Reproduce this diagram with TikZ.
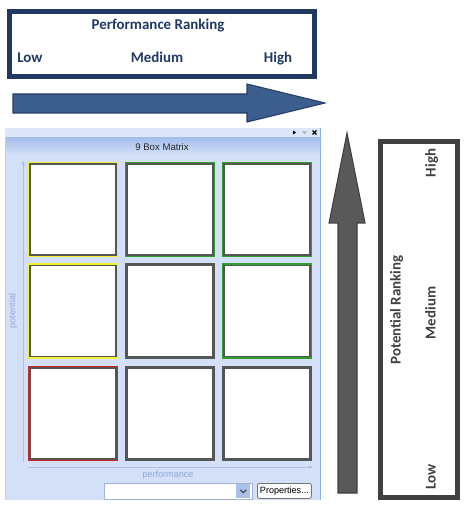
\documentclass[tikz,border=0pt]{standalone}
\usepackage{fontspec}
\setmainfont{Carlito}
\newfontfamily\uifont{Liberation Sans}
\usetikzlibrary{shapes.geometric}
\definecolor{navy}{HTML}{1F3864}
\definecolor{arrowblue}{HTML}{3B5E8F}
\definecolor{arrowblueline}{HTML}{253F66}
\definecolor{darkgray}{HTML}{404040}
\definecolor{arrowgray}{HTML}{595959}
\definecolor{panelbg}{HTML}{D4E0F7}
\definecolor{stripbg}{HTML}{DDE7F9}
\definecolor{headA}{HTML}{A6BEEC}
\definecolor{headB}{HTML}{D6E2F9}
\definecolor{axisblue}{HTML}{A9C0EC}
\definecolor{labelblue}{HTML}{8EA9DB}
\definecolor{cellgray}{HTML}{555555}
\definecolor{cellyellow}{HTML}{F2F230}
\definecolor{cellgreen}{HTML}{2E9E2E}
\definecolor{cellred}{HTML}{D42020}
\definecolor{edgeblue}{HTML}{8FAFE6}
\tikzset{
  rank/.style={font=\bfseries\fontsize{11.2}{13}\selectfont, inner sep=0pt, text height=1.6ex, text depth=0.45ex},
  uitext/.style={font=\uifont\fontsize{6.8}{8}\selectfont, inner sep=0pt},
}
\begin{document}
\begin{tikzpicture}[x=0.75pt,y=-0.75pt]
\useasboundingbox (0,0) rectangle (464,509);
% Performance box
\node[draw=navy, line width=3.75pt, minimum width=305*0.75pt, minimum height=65*0.75pt, inner sep=0pt, anchor=north west] (perfbox) at (6.5,9.5) {};
\node[rank, text=navy] (perftitle) at (158,26) {Performance Ranking};
\node[rank, text=navy] (plow) at (30,59) {Low};
\node[rank, text=navy] (pmed) at (157,59) {Medium};
\node[rank, text=navy] (phigh) at (278,59) {High};
% blue arrow
\draw[fill=arrowblue, draw=arrowblueline, line width=0.8pt, line join=miter]
  (13,94) -- (247,94) -- (247,84) -- (325,103) -- (247,122) -- (247,113) -- (13,113) -- cycle;
% panel
\fill[panelbg] (5,128) rectangle (321,500);
\fill[stripbg] (5,128) rectangle (321,137);
\shade[top color=headA, bottom color=headB] (5,138) rectangle (321,156);
\draw[edgeblue, line width=0.75pt] (320.5,128) -- (320.5,500);
\draw[edgeblue!60, line width=0.5pt] (5.3,137) -- (5.3,500);
\node[uitext, font=\uifont\fontsize{7.2}{8}\selectfont, text=black!85] (paneltitle) at (162,147) {9 Box Matrix};
% top-right icons
\fill[black] (293,130.5) -- (296,132.5) -- (293,134.5) -- cycle;
\fill[black!30] (302,131.5) -- (307,131.5) -- (304.5,134) -- cycle;
\draw[black, line width=0.9pt] (312.5,130.5) -- (316.5,134.5) (316.5,130.5) -- (312.5,134.5);
% axes
\coordinate (vtop) at (23,162);
\coordinate (vbot) at (23,462);
\draw[axisblue, line width=0.75pt] (vbot) -- (vtop);
\fill[axisblue] (21.5,165) -- (23,161) -- (24.5,165) -- cycle;
\coordinate (hleft) at (28,467);
\coordinate (hright) at (312,467);
\draw[axisblue, line width=0.75pt] (hleft) -- (hright);
\fill[axisblue] (309,465.5) -- (312.5,467) -- (309,468.5) -- cycle;
\node[uitext, text=labelblue] (perflabel) at (168,475) {performance};
\node[uitext, text=labelblue, rotate=90] (potlabel) at (13,311) {potential};
% cells: columns 28-118, 125-215, 222-312; rows 162-257, 263-358, 366-461
\foreach \x/\y/\c in {28/162/cellyellow, 125/162/cellgreen, 222/162/cellgreen,
                     28/263.5/cellyellow, 125/263.5/cellgray, 222/263.5/cellgreen,
                     28/366/cellred, 125/366/cellgray, 222/366/cellgray}{
  \fill[white] (\x,\y) rectangle ++(90,95);
  \draw[\c, line width=1.1pt] (\x+0.7,\y+0.7) rectangle ++(88.6,93.6);
  \draw[cellgray, line width=1.2pt] (\x+2.1,\y+2.1) rectangle ++(85.8,90.8);
}
% dropdown
\node[draw=axisblue!80!gray, fill=white, line width=0.6pt, minimum width=148*0.75pt, minimum height=16*0.75pt, inner sep=0pt, anchor=north west] (dropdown) at (104,483) {};
\node[fill=axisblue, minimum width=14*0.75pt, minimum height=14*0.75pt, inner sep=0pt, anchor=north west] (dropbtn) at (236,484) {};
\draw[black!70, line width=1pt] ([xshift=-2.2pt,yshift=1pt]dropbtn.center) -- ([yshift=-1pt]dropbtn.center) -- ([xshift=2.2pt,yshift=1pt]dropbtn.center);
\node[draw=black!55, fill=white!95!panelbg, rounded corners=1.5pt, line width=0.6pt, minimum width=54*0.75pt, minimum height=15*0.75pt, inner sep=0pt, anchor=north west, uitext] (propbtn) at (257,483) {Properties...};
% gray arrow
\draw[fill=arrowgray, draw=black!75, line width=0.8pt, line join=miter]
  (338,493) -- (338,223) -- (329,223) -- (347,133) -- (365,223) -- (357,223) -- (357,493) -- cycle;
% Potential box
\node[draw=darkgray, line width=3.75pt, minimum width=77*0.75pt, minimum height=355*0.75pt, inner sep=0pt, anchor=north west] (potbox) at (377.5,139.5) {};
\node[rank, text=darkgray, rotate=90] (pottitle) at (397,310) {Potential Ranking};
\node[rank, text=darkgray, rotate=90] (qhigh) at (432,163) {High};
\node[rank, text=darkgray, rotate=90] (qmed) at (432,313) {Medium};
\node[rank, text=darkgray, rotate=90] (qlow) at (432,477) {Low};
\end{tikzpicture}
\end{document}
